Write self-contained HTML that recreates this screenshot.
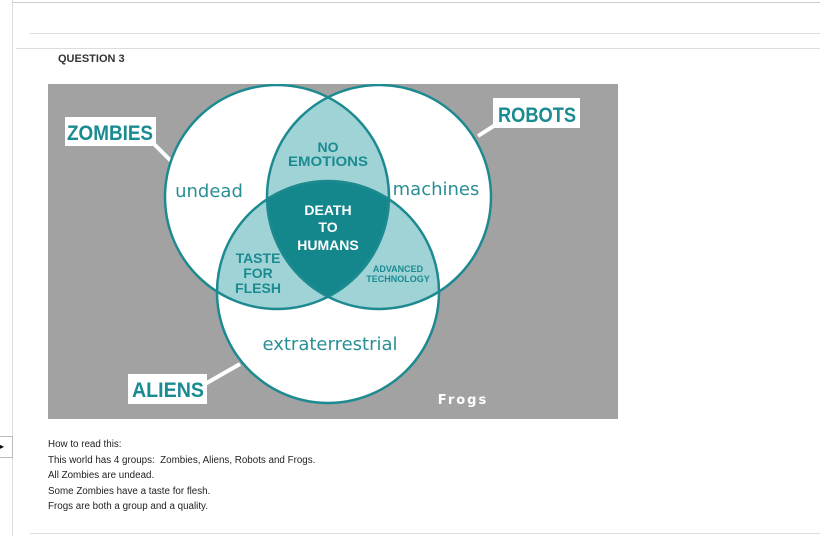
<!DOCTYPE html>
<html><head><meta charset="utf-8"><style>
body{margin:0;width:820px;height:536px;background:#fff;position:relative;overflow:hidden;font-family:"Liberation Sans",sans-serif}
.a{position:absolute}
</style></head><body>
<div class="a" style="left:0;top:0;width:12px;height:536px;border-right:1px solid #ddd;background:#fff"></div>
<div class="a" style="left:12px;top:0;width:808px;height:2px;border-bottom:1px solid #ccc"></div>
<div class="a" style="left:30px;top:33px;width:790px;height:1px;background:#ddd"></div>
<div class="a" style="left:16px;top:48px;width:804px;height:1px;background:#ddd"></div>
<div class="a" style="left:58px;top:53px;font-size:11px;font-weight:bold;color:#333">QUESTION 3</div>
<div class="a" style="left:0;top:436px;width:12px;height:20px;border:1px solid #bbb;border-left:none;background:#fff;font-size:8px;line-height:20px">▸</div>
<svg class="a" style="left:48px;top:84px" width="570" height="335" viewBox="48 84 570 335">
<defs>
<clipPath id="cz"><circle cx="277" cy="197" r="112"/></clipPath>
<clipPath id="cr"><circle cx="379" cy="197" r="112"/></clipPath>
<clipPath id="ca"><circle cx="328" cy="292" r="111"/></clipPath>
</defs>
<rect x="48" y="84" width="570" height="335" fill="#a2a2a2"/>
<line x1="150" y1="140" x2="172" y2="162" stroke="#fff" stroke-width="4"/>
<line x1="500" y1="122" x2="478" y2="136" stroke="#fff" stroke-width="4"/>
<line x1="205" y1="384" x2="240" y2="364" stroke="#fff" stroke-width="4"/>
<circle cx="277" cy="197" r="112" fill="#fff"/>
<circle cx="379" cy="197" r="112" fill="#fff"/>
<circle cx="328" cy="292" r="111" fill="#fff"/>
<g clip-path="url(#cz)"><circle cx="379" cy="197" r="112" fill="#9fd3d6"/><circle cx="328" cy="292" r="111" fill="#9fd3d6"/></g>
<g clip-path="url(#cr)"><circle cx="328" cy="292" r="111" fill="#9fd3d6"/></g>
<g clip-path="url(#cz)"><g clip-path="url(#cr)"><circle cx="328" cy="292" r="111" fill="#14878d"/></g></g>
<g fill="none" stroke="#1d8a90" stroke-width="2.5">
<circle cx="277" cy="197" r="112"/><circle cx="379" cy="197" r="112"/><circle cx="328" cy="292" r="111"/>
</g>
<rect x="65" y="117" width="91" height="29" fill="#fff"/>
<rect x="493" y="98" width="87" height="30" fill="#fff"/>
<rect x="128" y="374" width="79" height="30" fill="#fff"/>
<g font-family="Liberation Sans, sans-serif" font-weight="bold" fill="#1a8b91" text-anchor="middle">
<text x="110" y="140" font-size="21" textLength="86" lengthAdjust="spacingAndGlyphs">ZOMBIES</text>
<text x="537" y="122" font-size="21" textLength="78" lengthAdjust="spacingAndGlyphs">ROBOTS</text>
<text x="168" y="397" font-size="21" textLength="72" lengthAdjust="spacingAndGlyphs">ALIENS</text>
<text x="328" y="152" font-size="14">NO</text>
<text x="328" y="166" font-size="14" textLength="80" lengthAdjust="spacingAndGlyphs">EMOTIONS</text>
<text x="258" y="263" font-size="14">TASTE</text>
<text x="258" y="278" font-size="14">FOR</text>
<text x="258" y="293" font-size="14">FLESH</text>
<text x="398" y="272" font-size="9">ADVANCED</text>
<text x="398" y="282" font-size="9">TECHNOLOGY</text>
<g fill="#fff"><text x="328" y="215" font-size="14">DEATH</text><text x="328" y="232" font-size="14">TO</text><text x="328" y="250" font-size="14">HUMANS</text></g>
</g>
<g font-family="DejaVu Sans, sans-serif" fill="#2a8f95" text-anchor="middle">
<text x="209" y="197" font-size="18">undead</text>
<text x="436" y="195" font-size="18">machines</text>
<text x="330" y="350" font-size="18">extraterrestrial</text>
</g>
<text x="463" y="404" font-family="DejaVu Sans, sans-serif" font-weight="bold" font-size="13" fill="#fff" text-anchor="middle" letter-spacing="2">Frogs</text>
</svg>
<div class="a" style="left:48px;top:437px;font-size:9.8px;color:#222;line-height:15.6px">How to read this:<br>This world has 4 groups:&nbsp; Zombies, Aliens, Robots and Frogs.<br>All Zombies are undead.<br>Some Zombies have a taste for flesh.<br>Frogs are both a group and a quality.</div>
<div class="a" style="left:30px;top:533px;width:790px;height:1px;background:#ddd"></div>
</body></html>
